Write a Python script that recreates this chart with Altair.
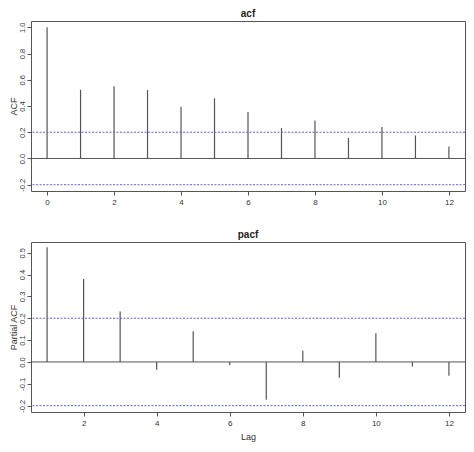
import pandas as pd
import altair as alt

# ACF / PACF values
acf_lags = list(range(0, 13))
acf_vals = [1.0, 0.524, 0.551, 0.521, 0.394, 0.459, 0.354, 0.232, 0.289, 0.157, 0.239, 0.175, 0.092]
pacf_lags = list(range(1, 13))
pacf_vals = [0.525, 0.380, 0.231, -0.036, 0.141, -0.015, -0.173, 0.051, -0.072, 0.131, -0.021, -0.063]
conf_limits = [0.2, -0.2]

acf_ticks_x = [0, 2, 4, 6, 8, 10, 12]
acf_ticks_y = [-0.2, 0.0, 0.2, 0.4, 0.6, 0.8, 1.0]
pacf_ticks_x = [2, 4, 6, 8, 10, 12]
pacf_ticks_y = [-0.2, -0.1, 0.0, 0.1, 0.2, 0.3, 0.4, 0.5]

GRAY = "#555555"
BLUE = "#5c5cf5"
label_expr = "datum.value < 0 ? '-' + format(-datum.value, '.1f') : format(datum.value, '.1f')"


def panel(lags, vals, xdom, ydom, xticks, yticks, title, ytitle, xtitle):
    df = pd.DataFrame({"lag": lags, "value": vals})
    conf = pd.DataFrame({"c": conf_limits})
    zero = pd.DataFrame({"z": [0.0]})

    x_axis = alt.Axis(values=xticks, grid=False, domain=False, tickColor=GRAY,
                      tickSize=4, labelPadding=3, labelFontSize=8, labelColor="#333333",
                      titleFontSize=9, titleFontWeight="normal", titleColor="#333333",
                      titlePadding=5, labelFlush=False, labelOverlap=False)
    y_axis = alt.Axis(values=yticks, grid=False, domain=False, tickColor=GRAY,
                      tickSize=4, labelAngle=270, labelAlign="center",
                      labelBaseline="bottom", labelPadding=1, labelFontSize=7.5,
                      labelColor="#333333", labelExpr=label_expr, titleFontSize=9,
                      titleFontWeight="normal", titleColor="#333333", titlePadding=0,
                      labelFlush=False, labelOverlap=False, labelBound=False)

    xscale = alt.Scale(domain=xdom, nice=False, zero=False)
    yscale = alt.Scale(domain=ydom, nice=False, zero=False)

    spikes = alt.Chart(df).mark_rule(color=GRAY, strokeWidth=1.2).encode(
        x=alt.X("lag:Q", scale=xscale, axis=x_axis, title=xtitle),
        y=alt.Y("value:Q", scale=yscale, axis=y_axis, title=ytitle),
        y2=alt.datum(0),
    )
    zero_line = alt.Chart(zero).mark_rule(color=GRAY, strokeWidth=1).encode(
        y=alt.Y("z:Q", scale=yscale, axis=y_axis, title=ytitle)
    )
    conf_lines = alt.Chart(conf).mark_rule(color=BLUE, strokeWidth=1,
                                           strokeDash=[2, 1.5]).encode(
        y=alt.Y("c:Q", scale=yscale, axis=y_axis, title=ytitle)
    )

    return alt.layer(spikes, zero_line, conf_lines).properties(
        width=434, height=170,
        title=alt.TitleParams(title, fontSize=10, fontWeight="bold", color="#222222",
                              anchor="middle", offset=2),
    )


top = panel(acf_lags, acf_vals, [-0.48, 12.48], [-0.248, 1.048],
            acf_ticks_x, acf_ticks_y, "acf", "ACF", "")
bottom = panel(pacf_lags, pacf_vals, [0.56, 12.44], [-0.229, 0.549],
               pacf_ticks_x, pacf_ticks_y, "pacf", "Partial ACF", "Lag")

chart = alt.vconcat(top, bottom, spacing=22).properties(
    padding={"left": 0, "top": 0, "right": 0, "bottom": 0}
).configure(
    font="Liberation Sans",
).configure_view(
    stroke=GRAY, strokeWidth=1
)

chart.save("out.html", embed_options={"renderer": "svg", "actions": False})
